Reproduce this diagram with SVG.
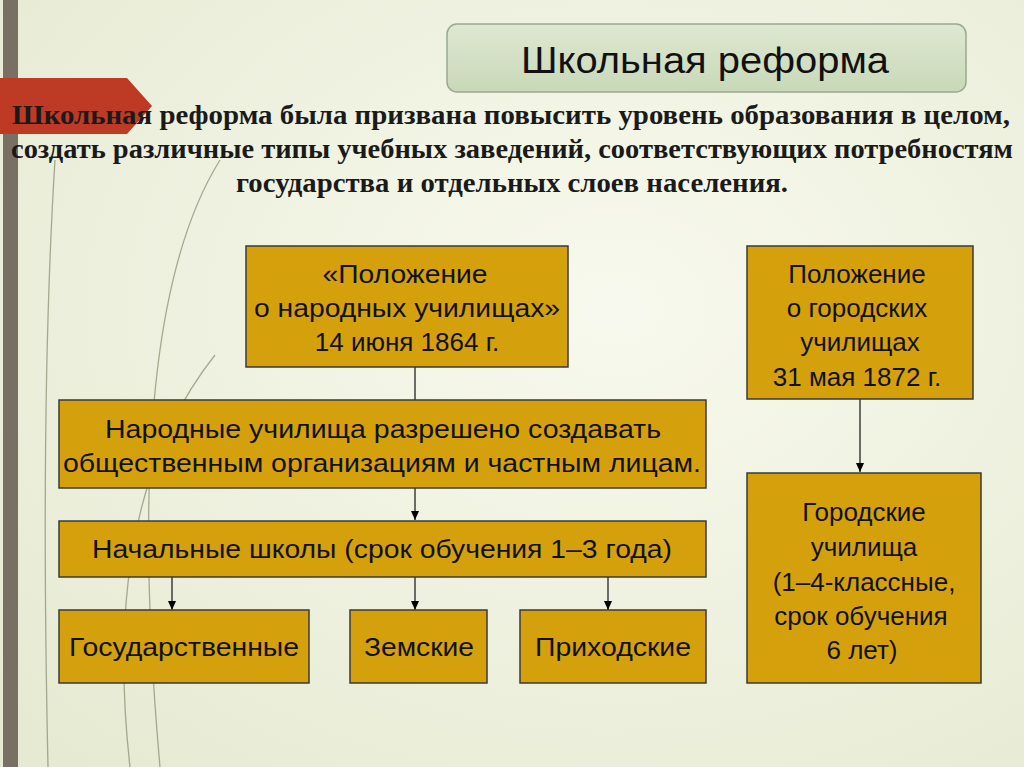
<svg xmlns="http://www.w3.org/2000/svg" width="1024" height="767" viewBox="0 0 1024 767">
<defs>
<radialGradient id="bg" cx="0.6" cy="0.4" r="0.8"><stop offset="0" stop-color="#f8f9ee"/><stop offset="1" stop-color="#e6ead2"/></radialGradient>
<linearGradient id="tt" x1="0" y1="0" x2="0" y2="1"><stop offset="0" stop-color="#dfe8d2"/><stop offset="1" stop-color="#c8d8b8"/></linearGradient>
<marker id="ar" markerWidth="10" markerHeight="10" refX="9" refY="5" orient="auto" markerUnits="userSpaceOnUse"><path d="M0,1 L9,5 L0,9 z" fill="#000"/></marker>
<style>
.b{fill:#d4a10d;stroke:#3a3a3a;stroke-width:1.5}
.t{font-family:"Liberation Sans",Arial,sans-serif;font-size:26px;fill:#111;text-anchor:middle}
.c{stroke:#222;stroke-width:1.3;fill:none}
</style>
</defs>
<rect width="1024" height="767" fill="url(#bg)"/>
<rect x="3" y="0" width="15" height="767" fill="#787163"/>
<g fill="none" stroke="#8a8a70" stroke-width="1.3" opacity="0.7">
<path d="M55,160 Q40,400 48,767"/>
<path d="M220,160 Q120,320 160,767"/>
<path d="M215,355 Q100,500 130,767"/>
</g>
<path d="M0,78 L127,78 L152,106 L127,134 L0,134 z" fill="#be3a24"/>
<g id="title"><rect x="447" y="24" width="519" height="68" rx="10" fill="url(#tt)" stroke="#9aa890" stroke-width="1.5"/>
<text x="705" y="73" class="t" style="font-size:36px" textLength="368" lengthAdjust="spacingAndGlyphs">Школьная реформа</text></g>
<g id="intro" style="font-family:'Liberation Serif','Times New Roman',serif;font-weight:bold;font-size:27px;fill:#1a1a1a;text-anchor:middle">
<text x="511" y="124" textLength="998" lengthAdjust="spacingAndGlyphs">Школьная реформа была призвана повысить уровень образования в целом,</text>
<text x="512" y="158" textLength="1002" lengthAdjust="spacingAndGlyphs">создать различные типы учебных заведений, соответствующих потребностям</text>
<text x="512" y="192" textLength="552" lengthAdjust="spacingAndGlyphs">государства  и отдельных слоев населения.</text>
</g>
<g id="connectors">
<line class="c" x1="415" y1="367" x2="415" y2="400"/>
<line class="c" x1="415" y1="488" x2="415" y2="520" marker-end="url(#ar)"/>
<line class="c" x1="172" y1="577" x2="172" y2="610" marker-end="url(#ar)"/>
<line class="c" x1="415" y1="577" x2="415" y2="610" marker-end="url(#ar)"/>
<line class="c" x1="608" y1="577" x2="608" y2="610" marker-end="url(#ar)"/>
<line class="c" x1="860" y1="399" x2="860" y2="472" marker-end="url(#ar)"/>
</g>
<g id="n1"><rect class="b" x="246" y="246" width="322" height="121"/>
<text class="t" x="405" y="283" textLength="165" lengthAdjust="spacingAndGlyphs">«Положение</text><text class="t" x="407" y="317" textLength="306" lengthAdjust="spacingAndGlyphs">о народных училищах»</text><text class="t" x="407" y="351">14 июня 1864 г.</text></g>
<g id="n2"><rect class="b" x="747" y="246" width="226" height="153"/>
<text class="t" x="857" y="283">Положение</text><text class="t" x="857" y="317">о городских</text><text class="t" x="860" y="351">училищах</text><text class="t" x="857" y="386">31 мая 1872 г.</text></g>
<g id="n3"><rect class="b" x="59" y="400" width="647" height="88"/>
<text class="t" x="383" y="438" textLength="556" lengthAdjust="spacingAndGlyphs">Народные училища разрешено создавать</text><text class="t" x="382" y="472" textLength="638" lengthAdjust="spacingAndGlyphs">общественным организациям и частным лицам.</text></g>
<g id="n4"><rect class="b" x="59" y="521" width="647" height="56"/>
<text class="t" x="382" y="558" textLength="580" lengthAdjust="spacingAndGlyphs">Начальные школы (срок обучения 1–3 года)</text></g>
<g id="n5"><rect class="b" x="59" y="610" width="250" height="73"/><text class="t" x="184" y="656" textLength="230" lengthAdjust="spacingAndGlyphs">Государственные</text></g>
<g id="n6"><rect class="b" x="350" y="610" width="137" height="73"/><text class="t" x="419" y="656" textLength="110" lengthAdjust="spacingAndGlyphs">Земские</text></g>
<g id="n7"><rect class="b" x="520" y="610" width="186" height="73"/><text class="t" x="613" y="656" textLength="156" lengthAdjust="spacingAndGlyphs">Приходские</text></g>
<g id="n8"><rect class="b" x="747" y="473" width="234" height="210"/>
<text class="t" x="864" y="521">Городские</text><text class="t" x="864" y="556">училища</text><text class="t" x="864" y="591">(1–4-классные,</text><text class="t" x="861" y="625">срок обучения</text><text class="t" x="862" y="659">6 лет)</text></g>
</svg>
